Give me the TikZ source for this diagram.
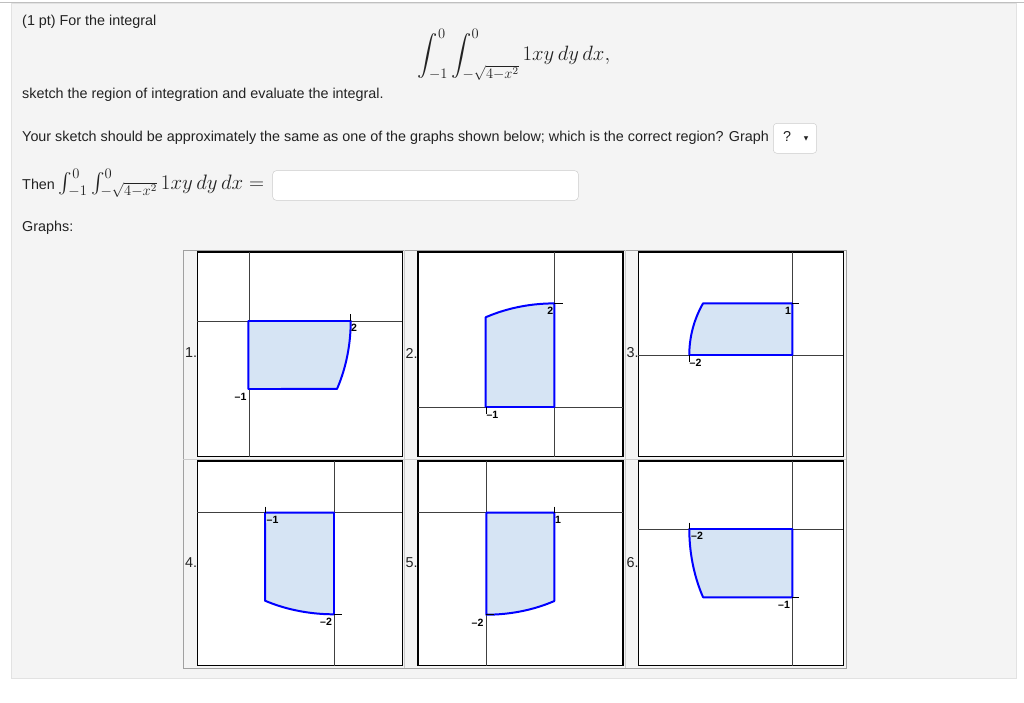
\RequirePackage{fix-cm}
\documentclass[tikz,border=0pt]{standalone}
\usepackage[no-math]{fontspec}
\usepackage{amsmath}
\setmainfont{Liberation Sans}
\newfontfamily\symfont{DejaVu Sans}
\definecolor{panelgray}{RGB}{244,244,244}
\definecolor{panelline}{RGB}{226,226,226}
\definecolor{boxline}{RGB}{204,204,204}
\definecolor{tableline}{RGB}{160,160,160}
\definecolor{regionfill}{RGB}{214,228,244}
\definecolor{regionline}{RGB}{0,0,255}
\definecolor{textcol}{RGB}{34,34,34}
\tikzstyle{prose} = [anchor=base west, inner sep=0pt, text=textcol, font=\fontsize{12.25}{14}\selectfont]
\tikzstyle{bigmath} = [inner sep=0pt, text=textcol, font=\fontsize{17.7}{20}\selectfont]
\tikzstyle{inputbox} = [draw=boxline, fill=white, rounded corners=3pt]
\tikzstyle{graphframe} = [draw=black, fill=white, line width=0.9pt]
\tikzstyle{axis} = [draw=black!75, line width=0.8pt]
\tikzstyle{region} = [draw=regionline, fill=regionfill, line width=1.7pt, line join=round]
\tikzstyle{tickmark} = [draw=black, line width=0.6pt]
\tikzstyle{ticklabel} = [inner sep=0pt, font=\fontsize{9}{10}\selectfont\bfseries]
\tikzstyle{cellnum} = [anchor=west, inner sep=0pt, text=textcol, font=\fontsize{12.25}{14}\selectfont]

\begin{document}
\begin{tikzpicture}[x=0.03cm, y=-0.03cm]
\useasboundingbox (0,0) rectangle (1024,703);
\fill[white] (0,0) rectangle (1024,703);
% panel
\draw[black!25] (0,2.3) -- (1024,2.3);
\draw[panelline, fill=panelgray] (11,3) rectangle (1016,678);

\node (head) [prose] at (22,25.5) {(1 pt) For the integral};
\node (integral) [bigmath] at (514,55) {$\displaystyle\int_{-1}^{0}\int_{-\sqrt{4-x^2}}^{0} 1xy\,dy\,dx,$};
\node (task) [prose] at (22,98.5) {sketch the region of integration and evaluate the integral.};
\node (question) [prose] at (22,141.5) {Your sketch should be approximately the same as one of the graphs shown below; which is the correct region? Graph};

% dropdown
\draw[inputbox] (773.3,123.3) rectangle (816.7,153.3);
\node (choice) [prose] at (783,142) {?};
\node (arrowdown) [inner sep=0pt, text=textcol, font=\symfont\fontsize{5}{6}\selectfont] at (806,138.5) {▼};

\node (then) [prose] at (22,189) {Then {\fontsize{17.8}{20}\selectfont$\int_{-1}^{0}\int_{-\sqrt{4-x^2}}^{0} 1xy\,dy\,dx =$}};
\draw[inputbox] (272.7,170.7) rectangle (578.3,200.3);
\node (graphs) [prose] at (22,231) {Graphs:};

% table of graphs
\draw[tableline, fill=panelgray] (183,250) rectangle (846,668);
\draw[boxline] (404.5,250) -- (404.5,668);
\draw[boxline] (625.5,250) -- (625.5,668);
\draw[boxline] (183,459) -- (846,459);
\foreach \fx in {197.3,418,638.3}
  \foreach \fy in {252,461}
    \draw[graphframe] (\fx,\fy) rectangle ++(205,204.7);

\node (num1) [cellnum] at (185,353) {1.};
\node (num2) [cellnum] at (405.5,353) {2.};
\node (num3) [cellnum] at (626.5,353) {3.};
\node (num4) [cellnum] at (185,562.7) {4.};
\node (num5) [cellnum] at (405.5,562.7) {5.};
\node (num6) [cellnum] at (626.5,562.7) {6.};

% graph 1
\draw[axis] (249,252) -- (249,456.7);
\draw[axis] (197.3,321) -- (402.3,321);
\draw[region] (248.3,321) -- (350.7,321) -- plot[variable=\t, domain=0:1, samples=40] ({248.3+51.2*sqrt(4-\t*\t)},{321+68*\t}) -- (248.3,389) -- cycle;
\draw[tickmark] (350.7,314) -- (350.7,321);
\node (g1top) [ticklabel] at (354,327.5) {2};
\node (g1low) [ticklabel] at (240.5,396.5) {\textendash1};

% graph 2
\draw[axis] (554.3,252) -- (554.3,456.7);
\draw[axis] (418,407) -- (623,407);
\draw[region] (554.3,407) -- (485.7,407) -- plot[variable=\t, domain=-1:0, samples=40] ({554.3+68.6*\t},{407-51.8*sqrt(4-\t*\t)}) -- cycle;
\draw[tickmark] (554.3,303.4) -- (562.5,303.4);
\draw[tickmark] (486,407) -- (486,414);
\node (g2top) [ticklabel] at (550.3,311) {2};
\node (g2low) [ticklabel, anchor=west] at (486.3,414.5) {\textendash1};

% graph 3
\draw[axis] (792.3,252) -- (792.3,456.7);
\draw[axis] (638.3,355) -- (843.3,355);
\draw[region] (792.3,303.3) -- (792.3,355) -- (689.3,355) -- plot[variable=\t, domain=0:1, samples=40] ({792.3-51.5*sqrt(4-\t*\t)},{355-51.7*\t}) -- cycle;
\draw[tickmark] (792.3,303.3) -- (798.5,303.3);
\draw[tickmark] (689.3,355) -- (689.3,362);
\node (g3top) [ticklabel] at (788,311) {1};
\node (g3low) [ticklabel, anchor=west] at (689.5,362.5) {\textendash2};

% graph 4
\draw[axis] (334,461) -- (334,665.7);
\draw[axis] (197.3,512.7) -- (402.3,512.7);
\draw[region] (265,512.7) -- (334,512.7) -- plot[variable=\t, domain=0:1, samples=40] ({334-69*\t},{512.7+50.8*sqrt(4-\t*\t)}) -- cycle;
\draw[tickmark] (265,506.5) -- (265,512.7);
\draw[tickmark] (334,614.3) -- (342,614.3);
\node (g4top) [ticklabel] at (272.5,520) {\textendash1};
\node (g4low) [ticklabel] at (326,622) {\textendash2};

% graph 5
\draw[axis] (486.3,461) -- (486.3,665.7);
\draw[axis] (418,512.7) -- (623,512.7);
\draw[region] (486.3,512.7) -- (554.3,512.7) -- plot[variable=\t, domain=0:1, samples=40] ({554.3-68*\t},{512.7+51*sqrt(4-(1-\t)*(1-\t))}) -- cycle;
\draw[tickmark] (554.3,506.5) -- (554.3,512.7);
\draw[tickmark] (486.3,614.7) -- (493.5,614.7);
\node (g5top) [ticklabel] at (558,520) {1};
\node (g5low) [ticklabel] at (477.5,622.5) {\textendash2};

% graph 6
\draw[axis] (792.3,461) -- (792.3,665.7);
\draw[axis] (638.3,529) -- (843.3,529);
\draw[region] (792.3,597.3) -- (792.3,529) -- (689.3,529) -- plot[variable=\t, domain=0:1, samples=40] ({792.3-51.5*sqrt(4-\t*\t)},{529+68.3*\t}) -- cycle;
\draw[tickmark] (689.3,522.5) -- (689.3,529);
\draw[tickmark] (792.3,597.3) -- (798.5,597.3);
\node (g6top) [ticklabel] at (697,536) {\textendash2};
\node (g6low) [ticklabel] at (784,605) {\textendash1};
\end{tikzpicture}
\end{document}
